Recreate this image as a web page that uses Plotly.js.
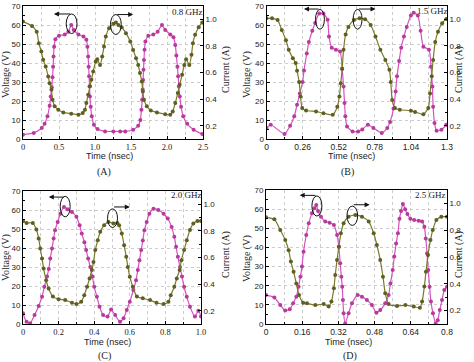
<!DOCTYPE html>
<html><head><meta charset="utf-8">
<script src="https://cdn.plot.ly/plotly-3.0.1.min.js"></script>
<style>html,body{margin:0;padding:0;background:#fff}#c{width:474px;height:362px}</style>
</head><body><div id="c"></div>
<script>
// ---------- Panel A : 0.8 GHz ----------
const tA_v = [0,0.15,0.26,0.3,0.34,0.37,0.385,0.4,0.41,0.418,0.424,0.432,0.45,0.5,0.58,0.63,0.67,0.705,0.77,0.84,0.88,0.895,0.905,0.912,0.918,0.924,0.93,0.94,0.955,0.985,1.035,1.14,1.255,1.35,1.42,1.53,1.6,1.63,1.645,1.655,1.662,1.668,1.674,1.68,1.688,1.7,1.74,1.81,1.87,1.93,1.975,2.045,2.09,2.115,2.13,2.145,2.155,2.165,2.178,2.195,2.225,2.28,2.37,2.49];
const vA = [2.3,3.2,5.8,8,12,17.5,22.4,27.3,32.5,38,43.4,48.6,52.5,54.3,55,56.5,60,57.4,55,53.9,52.2,48.6,43.4,38,33,27.6,22.4,17,12,7.5,5.2,4,4,4,4,4.9,7,10,15.4,20.6,26,31,36.4,41.6,47,51.3,54.3,55,56.5,60,57.4,55,53.5,49.5,44,38,33,27.6,22.4,17,12,8,4.9,2.6];
const tA_i = [0,0.125,0.19,0.22,0.255,0.28,0.315,0.35,0.37,0.395,0.41,0.44,0.49,0.56,0.67,0.77,0.83,0.86,0.88,0.905,0.93,0.95,0.975,1.01,1.03,1.07,1.1,1.125,1.15,1.195,1.255,1.29,1.325,1.37,1.43,1.49,1.53,1.57,1.6,1.625,1.65,1.665,1.68,1.72,1.775,1.86,1.975,2.045,2.08,2.115,2.15,2.175,2.21,2.24,2.265,2.31,2.34,2.36,2.39,2.44,2.49];
const iA = [0.983,0.950,0.907,0.820,0.757,0.696,0.646,0.570,0.520,0.470,0.396,0.346,0.320,0.300,0.290,0.283,0.296,0.320,0.370,0.433,0.496,0.546,0.607,0.683,0.700,0.657,0.720,0.796,0.870,0.933,0.966,0.976,0.957,0.940,0.896,0.833,0.770,0.707,0.657,0.596,0.533,0.457,0.396,0.346,0.314,0.300,0.287,0.283,0.307,0.370,0.446,0.507,0.583,0.657,0.700,0.657,0.733,0.820,0.883,0.940,0.976];
const xTickA = [0,0.5,1.0,1.5,2.0,2.5];
const xTextA = ["0","0.5","1.0","1.5","2.0","2.5"];

// ---------- Panel B : 1.5 GHz ----------
const tB_v = [0,0.03,0.13,0.17,0.2,0.22,0.24,0.26,0.27,0.29,0.305,0.33,0.35,0.38,0.41,0.44,0.45,0.47,0.5,0.53,0.545,0.555,0.562,0.568,0.58,0.62,0.66,0.69,0.73,0.77,0.83,0.87,0.89,0.915,0.93,0.94,0.955,0.97,0.99,1.01,1.04,1.06,1.09,1.11,1.13,1.17,1.185,1.195,1.2,1.21,1.225,1.26,1.295];
const vB = [5.8,7.5,2.6,7,12,18,24,30,36,45,51,57,61,66,66,62.7,54,48,47,46,37,27.6,19,12,6.6,4,4,5,7.5,5.8,3.2,5.8,9,16,25,33,41,48,54,59,65,66.5,65,57,48.6,47,38,27.6,17,8.4,4.4,4.9,7.5];
const tB_i = [0,0.04,0.08,0.11,0.14,0.16,0.19,0.21,0.22,0.235,0.245,0.257,0.285,0.357,0.41,0.477,0.51,0.525,0.535,0.545,0.555,0.57,0.59,0.63,0.67,0.71,0.75,0.785,0.82,0.856,0.885,0.895,0.905,0.925,0.96,1.04,1.07,1.13,1.165,1.178,1.19,1.2,1.215,1.235,1.265,1.295];
const iB = [1.007,1.007,0.994,0.920,0.843,0.771,0.707,0.671,0.614,0.529,0.420,0.333,0.314,0.307,0.294,0.283,0.343,0.420,0.520,0.629,0.771,0.886,0.943,0.994,1.007,1.000,0.957,0.871,0.771,0.694,0.620,0.529,0.394,0.333,0.320,0.313,0.303,0.286,0.333,0.443,0.571,0.694,0.829,0.907,0.971,1.003];
const xTickB = [0,0.26,0.52,0.78,1.04,1.3];
const xTextB = ["0","0.26","0.52","0.78","1.04","1.3"];

// ---------- Panel C : 2.0 GHz ----------
const tC_v = [0,0.02,0.04,0.065,0.088,0.107,0.12,0.135,0.145,0.153,0.163,0.172,0.18,0.195,0.21,0.23,0.25,0.275,0.3,0.318,0.33,0.345,0.355,0.366,0.378,0.39,0.4,0.415,0.43,0.45,0.475,0.495,0.518,0.545,0.565,0.583,0.6,0.62,0.635,0.645,0.654,0.664,0.673,0.682,0.695,0.71,0.733,0.76,0.79,0.813,0.835,0.85,0.86,0.87,0.882,0.893,0.905,0.92,0.938,0.966,0.985,1.0];
const vC = [5.6,1.2,0.4,4.7,9.5,14.4,19.6,25,29,34.5,39.7,45,49.4,53.7,58,61.6,60.4,59,56.4,52,47.6,43,38.9,34.5,30,25,19.6,14.4,9.1,4.7,3.9,7.6,4.7,1.2,3,7.4,11.7,17.9,23,28.4,33.6,38.9,44,49.4,53.7,58,60.7,60,58,55.5,51,45.9,40.6,35.4,30,25,19.6,14.4,9.1,3.9,7,4];
const tC_i = [0,0.02,0.055,0.075,0.088,0.097,0.107,0.116,0.13,0.144,0.168,0.2,0.237,0.275,0.3,0.327,0.344,0.36,0.374,0.387,0.396,0.406,0.42,0.434,0.456,0.48,0.508,0.53,0.54,0.555,0.568,0.58,0.589,0.6,0.617,0.64,0.673,0.714,0.75,0.79,0.817,0.83,0.85,0.864,0.88,0.89,0.905,0.92,0.938,0.957,0.98,1.0];
const iC = [0.874,0.860,0.860,0.810,0.743,0.667,0.593,0.517,0.429,0.367,0.306,0.287,0.280,0.260,0.250,0.267,0.317,0.380,0.443,0.506,0.567,0.656,0.729,0.793,0.843,0.867,0.856,0.860,0.843,0.780,0.693,0.606,0.529,0.456,0.380,0.306,0.293,0.280,0.260,0.250,0.267,0.317,0.380,0.443,0.506,0.580,0.656,0.729,0.806,0.856,0.874,0.874];
const xTickC = [0,0.2,0.4,0.6,0.8,1.0];
const xTextC = ["0","0.2","0.4","0.6","0.8","1.0"];

// ---------- Panel D : 2.5 GHz ----------
const tD_v = [0,0.037,0.063,0.085,0.105,0.12,0.134,0.144,0.152,0.159,0.166,0.178,0.189,0.203,0.214,0.222,0.23,0.243,0.262,0.281,0.3,0.314,0.322,0.328,0.333,0.337,0.34,0.343,0.35,0.365,0.38,0.405,0.424,0.446,0.468,0.488,0.505,0.527,0.542,0.55,0.56,0.567,0.575,0.583,0.59,0.597,0.605,0.615,0.625,0.638,0.655,0.675,0.69,0.7,0.706,0.712,0.717,0.723,0.729,0.738,0.75,0.759,0.768,0.778,0.788,0.8];
const vD = [15.1,13.9,9.9,7,7.7,10.8,14.3,19.5,24.7,30,37.8,46.5,52.6,57.8,60.5,62.2,59,56,53.5,52.9,51.7,46.5,40.4,31.7,24.7,19.5,12.5,5.6,0.3,5.6,10.8,15.1,14.3,12.5,9.9,5.9,7.3,10.8,15.1,21.2,28.2,35.2,42,47.4,55,59,62.7,60,57.5,55,54.3,54,53.5,50.8,44.7,36.9,28.2,19.5,11.7,5.6,0.3,2,7.3,12.5,17.8,19.5];
const tD_i = [0,0.037,0.063,0.085,0.1,0.11,0.122,0.134,0.146,0.164,0.181,0.218,0.255,0.277,0.289,0.3,0.306,0.314,0.322,0.331,0.343,0.365,0.395,0.424,0.454,0.476,0.49,0.505,0.517,0.527,0.542,0.579,0.616,0.653,0.68,0.69,0.7,0.707,0.716,0.727,0.737,0.753,0.775,0.8];
const iD = [0.896,0.881,0.801,0.727,0.651,0.566,0.490,0.403,0.316,0.259,0.254,0.241,0.249,0.230,0.267,0.366,0.466,0.577,0.677,0.777,0.851,0.900,0.914,0.900,0.864,0.777,0.690,0.577,0.453,0.329,0.249,0.234,0.241,0.230,0.221,0.267,0.379,0.490,0.614,0.727,0.801,0.876,0.900,0.900];
const xTickD = [0,0.16,0.32,0.48,0.64,0.8];
const xTextD = ["0","0.16","0.32","0.48","0.64","0.8"];

// ---------- shared axis labels ----------
const vTicks = [0,10,20,30,40,50,60,70];
const iTicks = [0.2,0.4,0.6,0.8,1.0];
const iTickText = ["0.2","0.4","0.6","0.8","1.0"];
const freqLabels = ["0.8 GHz","1.5 GHz","2.0 GHz","2.5 GHz"];
const panelLabels = ["(A)","(B)","(C)","(D)"];

const W = 474, H = 362;
const px = v => v / W, py = v => 1 - v / H;
const MAG = '#d552bf', MAGM = '#b73a9c', OLI = '#7a7a2c', OLIM = '#5f5f22';
const SANS = 'Liberation Sans, Arial, sans-serif';
const SERIF = 'Liberation Serif, Times New Roman, serif';

const panels = [
  {tv:tA_v, v:vA, ti:tA_i, i:iA, xt:xTickA, xs:xTextA, xmax:2.5, box:[23,203,6,139], xfont:SERIF,
   lab:{vx:6, vy:75, cx:226, cy:70, tx:109, ty:156, px:104, py:172, fx:187, fy:12},
   ell:[[0.6,0.75,55.5,65.8],[1.215,1.365,55,65.5]], arr:[[0.675,65.8,0.43],[1.29,65.5,1.53]]},
  {tv:tB_v, v:vB, ti:tB_i, i:iB, xt:xTickB, xs:xTextB, xmax:1.3, box:[266.5,447,6,139], xfont:SANS,
   lab:{vx:247, vy:74, cx:459, cy:70, tx:351, ty:156, px:347, py:172, fx:432, fy:11},
   ell:[[0.353,0.417,57.8,68.2],[0.624,0.688,57.8,68.2]], arr:[[0.385,68.4,0.27],[0.656,68.4,0.785]]},
  {tv:tC_v, v:vC, ti:tC_i, i:iC, xt:xTickC, xs:xTextC, xmax:1.0, box:[23,201,191,324], xfont:SERIF,
   lab:{vx:6, vy:258, cx:226, cy:255, tx:107, ty:342, px:104, py:356, fx:186, fy:195},
   ell:[[0.209,0.265,56.4,67.2],[0.475,0.531,50.8,60.6]], arr:[[0.237,66.8,0.145],[0.503,61.6,0.6]]},
  {tv:tD_v, v:vD, ti:tD_i, i:iD, xt:xTickD, xs:xTextD, xmax:0.8, box:[266,447,190,324], xfont:SANS,
   lab:{vx:247, vy:258, cx:459, cy:255, tx:348, ty:342, px:350, py:356, fx:430, fy:195},
   ell:[[0.203,0.247,56.4,66.9],[0.358,0.405,51.5,61.6]], arr:[[0.225,67.2,0.149],[0.381,62.3,0.458]]}
];

const data = [], annotations = [], shapes = [];
const layout = {width:W, height:H, margin:{l:0,r:0,t:0,b:0}, paper_bgcolor:'#fff', plot_bgcolor:'#fff',
  showlegend:false, font:{family:SANS, size:8, color:'#222'}};

panels.forEach((p, k) => {
  const xs = k === 0 ? '' : String(k+1);
  const yv = 2*k+1, yi = 2*k+2;
  const yvs = yv === 1 ? '' : String(yv);
  const [x0,x1,y0,y1] = p.box;
  const xdom = [px(x0), px(x1)], ydom = [py(y1), py(y0)];
  const step = p.xt[1] - p.xt[0];
  layout['xaxis'+xs] = {domain:xdom, anchor:'y'+yvs, range:[0,p.xmax], tickvals:p.xt, ticktext:p.xs,
    ticks:'inside', ticklen:3, tickcolor:'#000', showline:true, linecolor:'#000', linewidth:1, mirror:true,
    showgrid:true, gridcolor:'#cccccc', griddash:'dot', gridwidth:1, zeroline:false,
    tickfont:{family:p.xfont, size:8.5, color:'#222'},
    minor:{dtick:step/2, tick0:0, ticks:'inside', ticklen:2, tickcolor:'#000', showgrid:true, gridcolor:'#cccccc', griddash:'dot'}};
  layout['yaxis'+yvs] = {domain:ydom, anchor:'x'+xs, range:[0,70], tickvals:vTicks,
    ticks:'inside', ticklen:3, tickcolor:'#000', showline:true, linecolor:'#000', linewidth:1,
    showgrid:true, gridcolor:'#cccccc', griddash:'dot', zeroline:false,
    tickfont:{family:SANS, size:8, color:'#222'},
    minor:{dtick:5, ticks:'inside', ticklen:2, tickcolor:'#000'}};
  layout['yaxis'+yi] = {domain:ydom, anchor:'x'+xs, overlaying:'y'+yvs, side:'right', range:[0.1,1.1],
    tickvals:iTicks, ticktext:iTickText, ticks:'inside', ticklen:3, tickcolor:'#000',
    showline:true, linecolor:'#000', linewidth:1, showgrid:false, zeroline:false,
    tickfont:{family:SANS, size:8, color:'#222'},
    minor:{dtick:0.1, ticks:'inside', ticklen:2, tickcolor:'#000'}};

  data.push({x:p.ti, y:p.i, xaxis:'x'+xs, yaxis:'y'+yi, type:'scatter', mode:'lines+markers',
    line:{color:OLI, width:1.2, shape:'spline', smoothing:0.6}, marker:{color:OLIM, size:4}});
  data.push({x:p.tv, y:p.v, xaxis:'x'+xs, yaxis:'y'+yvs, type:'scatter', mode:'lines+markers',
    line:{color:MAG, width:1.2, shape:'spline', smoothing:0.6}, marker:{color:MAGM, size:4}});

  const L = p.lab;
  annotations.push({xref:'paper', yref:'paper', x:px(L.vx), y:py(L.vy), text:'Voltage (V)', textangle:-90,
    showarrow:false, xanchor:'center', yanchor:'middle', font:{family:SERIF, size:10, color:'#222'}});
  annotations.push({xref:'paper', yref:'paper', x:px(L.cx), y:py(L.cy), text:'Current (A)', textangle:-90,
    showarrow:false, xanchor:'center', yanchor:'middle', font:{family:SERIF, size:10, color:'#222'}});
  annotations.push({xref:'paper', yref:'paper', x:px(L.tx), y:py(L.ty), text:'Time (nsec)',
    showarrow:false, xanchor:'center', yanchor:'middle', font:{family:SANS, size:9, color:'#222'}});
  annotations.push({xref:'paper', yref:'paper', x:px(L.px), y:py(L.py), text:panelLabels[k],
    showarrow:false, xanchor:'center', yanchor:'middle', font:{family:SERIF, size:10, color:'#222'}});
  annotations.push({xref:'paper', yref:'paper', x:px(L.fx), y:py(L.fy), text:freqLabels[k],
    showarrow:false, xanchor:'center', yanchor:'middle', font:{family:SERIF, size:9, color:'#222'}});

  p.ell.forEach(e => shapes.push({type:'circle', xref:'x'+xs, yref:'y'+yvs, x0:e[0], x1:e[1], y0:e[2], y1:e[3],
    line:{color:'#111', width:1}}));
  p.arr.forEach(a => annotations.push({xref:'x'+xs, yref:'y'+yvs, axref:'x'+xs, ayref:'y'+yvs,
    x:a[2], y:a[1], ax:a[0], ay:a[1], text:'', showarrow:true, arrowhead:2, arrowsize:1, arrowwidth:1, arrowcolor:'#111'}));
});
layout.annotations = annotations;
layout.shapes = shapes;
Plotly.newPlot('c', data, layout, {staticPlot:true, displayModeBar:false});
</script></body></html>
